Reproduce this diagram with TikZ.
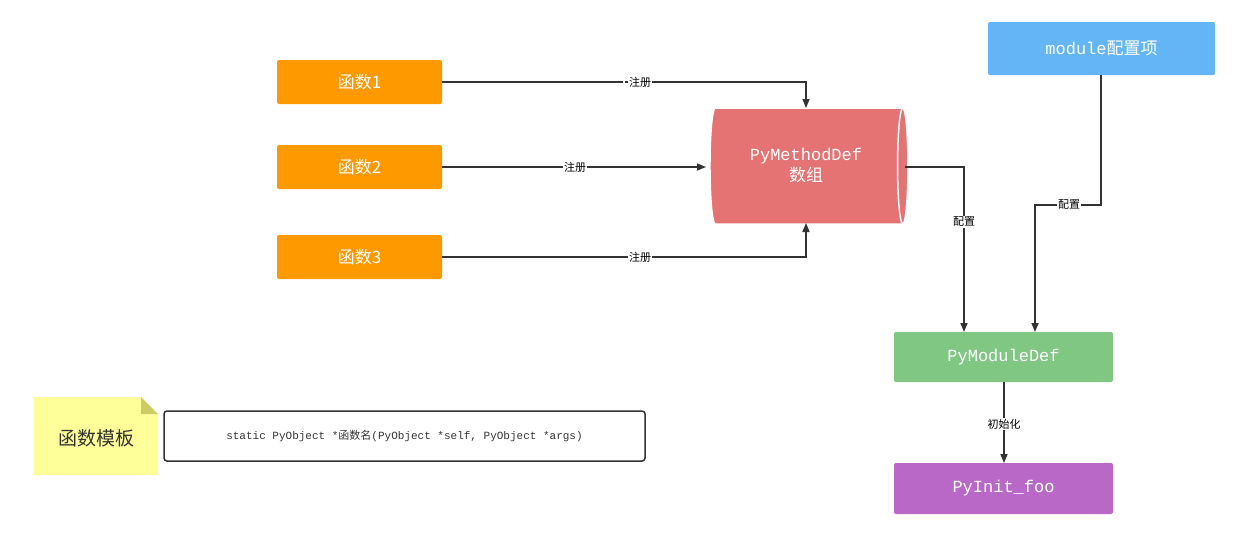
\documentclass[tikz,border=0pt]{standalone}
\usepackage{fontspec}
\setmainfont{Liberation Sans}
\setmonofont{Liberation Mono}
\newfontfamily\cjk{Noto Sans CJK SC}
\usetikzlibrary{shapes.geometric,arrows.meta}
\definecolor{org}{RGB}{255,153,0}
\definecolor{cyl}{RGB}{229,115,115}
\definecolor{blu}{RGB}{100,181,246}
\definecolor{grn}{RGB}{129,199,132}
\definecolor{pur}{RGB}{186,104,200}
\definecolor{note}{RGB}{255,255,153}
\definecolor{fold}{RGB}{204,204,102}
\definecolor{ln}{RGB}{51,51,51}
\begin{document}
\begin{tikzpicture}[x=1pt,y=-1pt,
 box/.style={draw=none,rounded corners=2pt,text=white,minimum width=#1,inner sep=0},
 fn/.style={box=165pt,fill=org,minimum height=44pt,font=\cjk\fontsize{17}{17}\selectfont},
 arr/.style={draw=ln,line width=1.5pt,-{Triangle[length=9pt,width=7pt]}},
 lab/.style={fill=white,inner sep=1pt,font=\cjk\fontsize{11}{11}\selectfont,text=black}]
\useasboundingbox (0,0) rectangle (1240,536);
\node[fn] (f1) at (359.5,82) {函数1};
\node[fn] (f2) at (359.5,167) {函数2};
\node[fn] (f3) at (359.5,257) {函数3};
\node[cylinder,shape border rotate=0,aspect=0.3,draw=white,line width=1.5pt,fill=cyl,
  cylinder uses custom fill,cylinder body fill=cyl,cylinder end fill=cyl,
  minimum width=116pt,minimum height=198pt,inner sep=0,text=white,align=center,
  font=\fontsize{17}{21}\selectfont] (cy) at (806,166)
  {{\ttfamily PyMethodDef}\\{\cjk 数组}};
\node[box=227pt,fill=blu,minimum height=53pt,font=\fontsize{17}{17}\selectfont] (mc) at (1101.5,48.5) {{\ttfamily module}{\cjk 配置项}};
\node[box=219pt,fill=grn,minimum height=50pt,font=\ttfamily\fontsize{17}{17}\selectfont] (md) at (1003.5,357) {PyModuleDef};
\node[box=219pt,fill=pur,minimum height=51pt,font=\ttfamily\fontsize{17}{17}\selectfont] (pi) at (1003.5,488.5) {PyInit\_foo};
\fill[note] (34,397) -- (141,397) -- (158,414) -- (158,475) -- (34,475) -- cycle;
\fill[fold] (141,397) -- (158,414) -- (141,414) -- cycle;
\node[font=\cjk\fontsize{19}{19}\selectfont,text=ln] (nt) at (96,438) {函数模板};
\node[draw=ln,line width=1.5pt,rounded corners=3pt,minimum width=481pt,minimum height=50pt,
  font=\fontsize{11}{11}\selectfont,text=ln] (cd) at (404.5,436)
  {{\ttfamily static PyObject *}{\cjk 函数名}{\ttfamily(PyObject *self, PyObject *args)}};
\coordinate (c1) at (cy.north-|806,0);
\draw[arr] (f1.east) -- (806,82) node[lab,pos=0.5,anchor=center] at (640,82) {} -- (806,108);
\node[lab] at (640,82) {注册};
\draw[arr] (f2.east) -- (706,167);
\node[lab] at (575,167) {注册};
\draw[arr] (f3.east) -- (806,257) -- (806,223);
\node[lab] at (640,257) {注册};
\draw[arr] (905,167) -- (964,167) -- (964,332);
\node[lab] at (964,222) {配置};
\draw[arr] (mc.south-|1101,0) ++(0,0) -- (1101,205) -- (1035,205) -- (1035,332);
\node[lab] at (1069,205) {配置};
\draw[arr] (md.south-|1004,0) -- (1004,463);
\node[lab] at (1004,424) {初始化};
\end{tikzpicture}
\end{document}
